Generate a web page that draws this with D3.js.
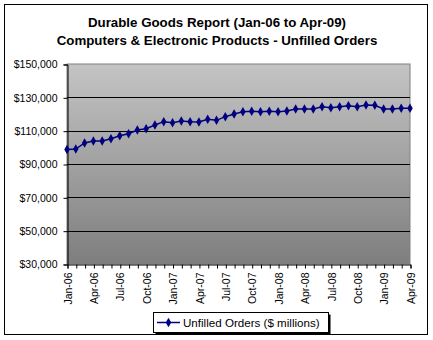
<!DOCTYPE html>
<html><head><meta charset="utf-8">
<script src="https://cdn.jsdelivr.net/npm/d3@7"></script>
<style>body{margin:0;background:#fff}svg{display:block}text{font-family:"Liberation Sans",Arial,sans-serif}</style>
</head><body>
<script>
const months = ["Jan-06","Feb-06","Mar-06","Apr-06","May-06","Jun-06","Jul-06","Aug-06","Sep-06","Oct-06","Nov-06","Dec-06",
"Jan-07","Feb-07","Mar-07","Apr-07","May-07","Jun-07","Jul-07","Aug-07","Sep-07","Oct-07","Nov-07","Dec-07",
"Jan-08","Feb-08","Mar-08","Apr-08","May-08","Jun-08","Jul-08","Aug-08","Sep-08","Oct-08","Nov-08","Dec-08",
"Jan-09","Feb-09","Mar-09","Apr-09"];
const unfilledOrders = [98700,99000,102600,103800,103800,105200,107000,108200,110400,111200,113400,115400,
114800,115800,115400,115200,116800,116200,118400,120000,121400,121600,121400,121600,
121400,121800,123000,123000,123000,124400,123800,124400,125000,124400,125400,125200,
123000,123000,123400,123400];
const yTicks = [30000,50000,70000,90000,110000,130000,150000];
const xLabels = ["Jan-06","Apr-06","Jul-06","Oct-06","Jan-07","Apr-07","Jul-07","Oct-07","Jan-08","Apr-08","Jul-08","Oct-08","Jan-09","Apr-09"];
const titleLines = ["Durable Goods Report (Jan-06 to Apr-09)","Computers & Electronic Products - Unfilled Orders"];
const seriesName = "Unfilled Orders ($ millions)";

const W=433,H=340;
const L=67,R=410,T=64,B=264;
const svg=d3.select("body").append("svg").attr("width",W).attr("height",H);
const defs=svg.append("defs");
const g=defs.append("linearGradient").attr("id","bg").attr("x1",0).attr("y1",0).attr("x2",0).attr("y2",1);
g.append("stop").attr("offset","0%").attr("stop-color","#c4c4c4");
g.append("stop").attr("offset","100%").attr("stop-color","#7e7e7e");

svg.append("rect").attr("x",4.5).attr("y",4.5).attr("width",423).attr("height",330).attr("fill","#fff").attr("stroke","#000").attr("stroke-width",1);

const x=d3.scalePoint().domain(months).range([L,R]).padding(0);
const y=d3.scaleLinear().domain([30000,150000]).range([B,T]);

svg.append("rect").attr("x",L).attr("y",T).attr("width",R-L).attr("height",B-T).attr("fill","url(#bg)").attr("stroke","#808080").attr("stroke-width",1);

// gridlines
svg.append("g").selectAll("line").data(yTicks.filter(v=>v>30000&&v<150000)).join("line")
 .attr("x1",L).attr("x2",R).attr("y1",d=>Math.round(y(d))+0.5).attr("y2",d=>Math.round(y(d))+0.5)
 .attr("stroke","#000").attr("stroke-width",1);

// y axis
const fmt=d=>"$"+d3.format(",")(d);
const ya=svg.append("g").attr("transform",`translate(${L+0.5},0.5)`)
 .call(d3.axisLeft(y).tickValues(yTicks).tickFormat(fmt).tickSize(4).tickPadding(6));
ya.select(".domain").attr("stroke","#000");
ya.selectAll("text").attr("font-size","10.5px").attr("fill","#000").attr("font-family","'Liberation Sans',Arial,sans-serif");

// x axis
const xa=svg.append("g").attr("transform",`translate(0.5,${B+0.5})`)
 .call(d3.axisBottom(x).tickSize(4).tickFormat(d=>xLabels.includes(d)?d:""));
xa.select(".domain").attr("stroke","#000");
xa.selectAll(".tick line").attr("stroke","#000");
xa.selectAll("text").attr("font-size","10.5px").attr("fill","#000").attr("font-family","'Liberation Sans',Arial,sans-serif")
 .attr("text-anchor","end").attr("transform","rotate(-90)").attr("x",-8).attr("y",0).attr("dy","0.35em");

// line
const line=d3.line().x((d,i)=>x(months[i])).y(d=>y(d));
svg.append("path").datum(unfilledOrders).attr("d",line).attr("fill","none").attr("stroke","#000080").attr("stroke-width",1.5);
const sym=d3.symbol().type(d3.symbolDiamond).size(26);
svg.append("g").selectAll("path").data(unfilledOrders).join("path")
 .attr("transform",(d,i)=>`translate(${x(months[i])},${y(d)})`).attr("d",sym).attr("fill","#000080");

// title
svg.append("g").selectAll("text").data(titleLines).join("text")
 .attr("x",217).attr("y",(d,i)=>27+i*18).attr("text-anchor","middle")
 .attr("font-size","13.3px").attr("font-weight","bold").text(d=>d);

// legend
const lg=svg.append("g");
lg.append("rect").attr("x",155.5).attr("y",314.5).attr("width",175).attr("height",20).attr("fill","#000");
lg.append("rect").attr("x",153.5).attr("y",312.5).attr("width",175).attr("height",20).attr("fill","#fff").attr("stroke","#000");
lg.append("line").attr("x1",157).attr("x2",180).attr("y1",322.5).attr("y2",322.5).attr("stroke","#000080").attr("stroke-width",1.5);
lg.append("path").attr("transform","translate(168.5,322.5)").attr("d",sym).attr("fill","#000080");
lg.append("text").attr("x",183).attr("y",326.5).attr("font-size","11.6px").text(seriesName);
</script>
</body></html>
